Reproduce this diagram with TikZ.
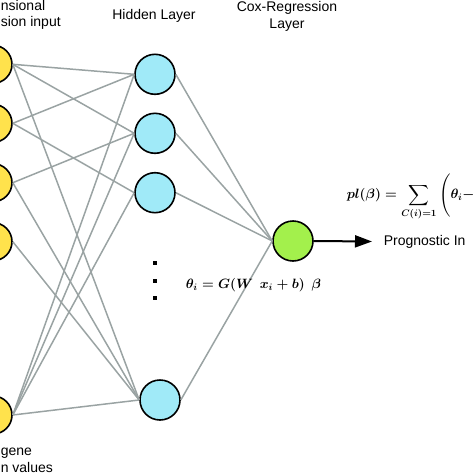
\RequirePackage{fix-cm}
\documentclass[tikz,border=0pt]{standalone}
\usepackage{amsmath}
\usepackage{fontspec}
\setsansfont{Liberation Sans}
\usetikzlibrary{arrows.meta, positioning}
\definecolor{cyellow}{HTML}{FFE24C}
\definecolor{cblue}{HTML}{A0EAF8}
\definecolor{cgreen}{HTML}{A3F04C}
\definecolor{cedge}{HTML}{9AA3A3}
\tikzset{
  every picture/.style={font=\sffamily, line width=1.6pt},
  neuron/.style={circle, draw=black, fill=#1, minimum size=40pt, inner sep=0pt, line width=1.6pt},
  neuron/.default=cblue,
  link/.style={draw=cedge, line width=1.5pt},
  arrow/.style={-{Triangle[length=17pt, width=12pt]}, draw=black, line width=2pt},
}
\begin{document}
\begin{tikzpicture}[x=1pt, y=-1pt,
  txt/.style={font=\sffamily\fontsize{14}{16.5}\selectfont, inner sep=0pt},
  mth/.style={font=\fontsize{13.5}{17}\selectfont\boldmath, inner sep=0pt},
  vdot/.style={rectangle, fill=black, minimum size=4pt, inner sep=0pt}]
  \useasboundingbox (0,0) rectangle (474,474);
  \clip (0,0) rectangle (474,474);
  % input layer
  \foreach \y [count=\i] in {64.3, 123.3, 182.7, 241.7, 415}
    \node[neuron=cyellow, minimum size=38pt] (x\i) at (-7,\y) {};
  % hidden layer
  \foreach \y [count=\j] in {74.3, 133.3, 192.7}
    \node[neuron] (h\j) at (155,\y) {};
  \node[neuron] (h4) at (160,400) {};
  \foreach \y [count=\k] in {263.3, 281, 298.3}
    \node[vdot] (d\k) at (155,\y) {};
  % cox-regression layer
  \node[neuron=cgreen] (out) at (293,241) {};
  % connections
  \foreach \i/\j in {1/1, 1/2, 1/4, 2/1, 2/3, 3/2, 3/4, 4/4, 5/1, 5/2, 5/3, 5/4}
    \draw[link] (x\i.east) -- (h\j.west);
  \foreach \j in {1,...,4}
    \draw[link] (h\j.east) -- (out.west);
  % output
  \node[txt, anchor=west, inner xsep=11pt] (prog) at (372,241.5) {Prognostic In};
  \draw[arrow] (out.east) -- (prog.west);
  % labels
  \node[txt, align=left, anchor=north west] (inp) at (0,-0.5) {nsional\\sion input};
  \node[txt, align=left, anchor=north west] (gene) at (0,447.2) {gene\\n values};
  \node[txt, anchor=base] (hid) at (154,19.5) {Hidden Layer};
  \node[txt, align=center, anchor=north] (cox) at (287,1) {Cox-Regression\\Layer};
  \node[mth, anchor=base west] (theta) at (185,288) {$\theta_i = G(W\;\,x_i + b)\;\,\beta$};
  \node[mth, anchor=base west] (pl) at (346,198.5) {$\displaystyle pl(\beta) = \sum_{C(i)=1} \Bigg( \theta_i -$};
\end{tikzpicture}
\end{document}
